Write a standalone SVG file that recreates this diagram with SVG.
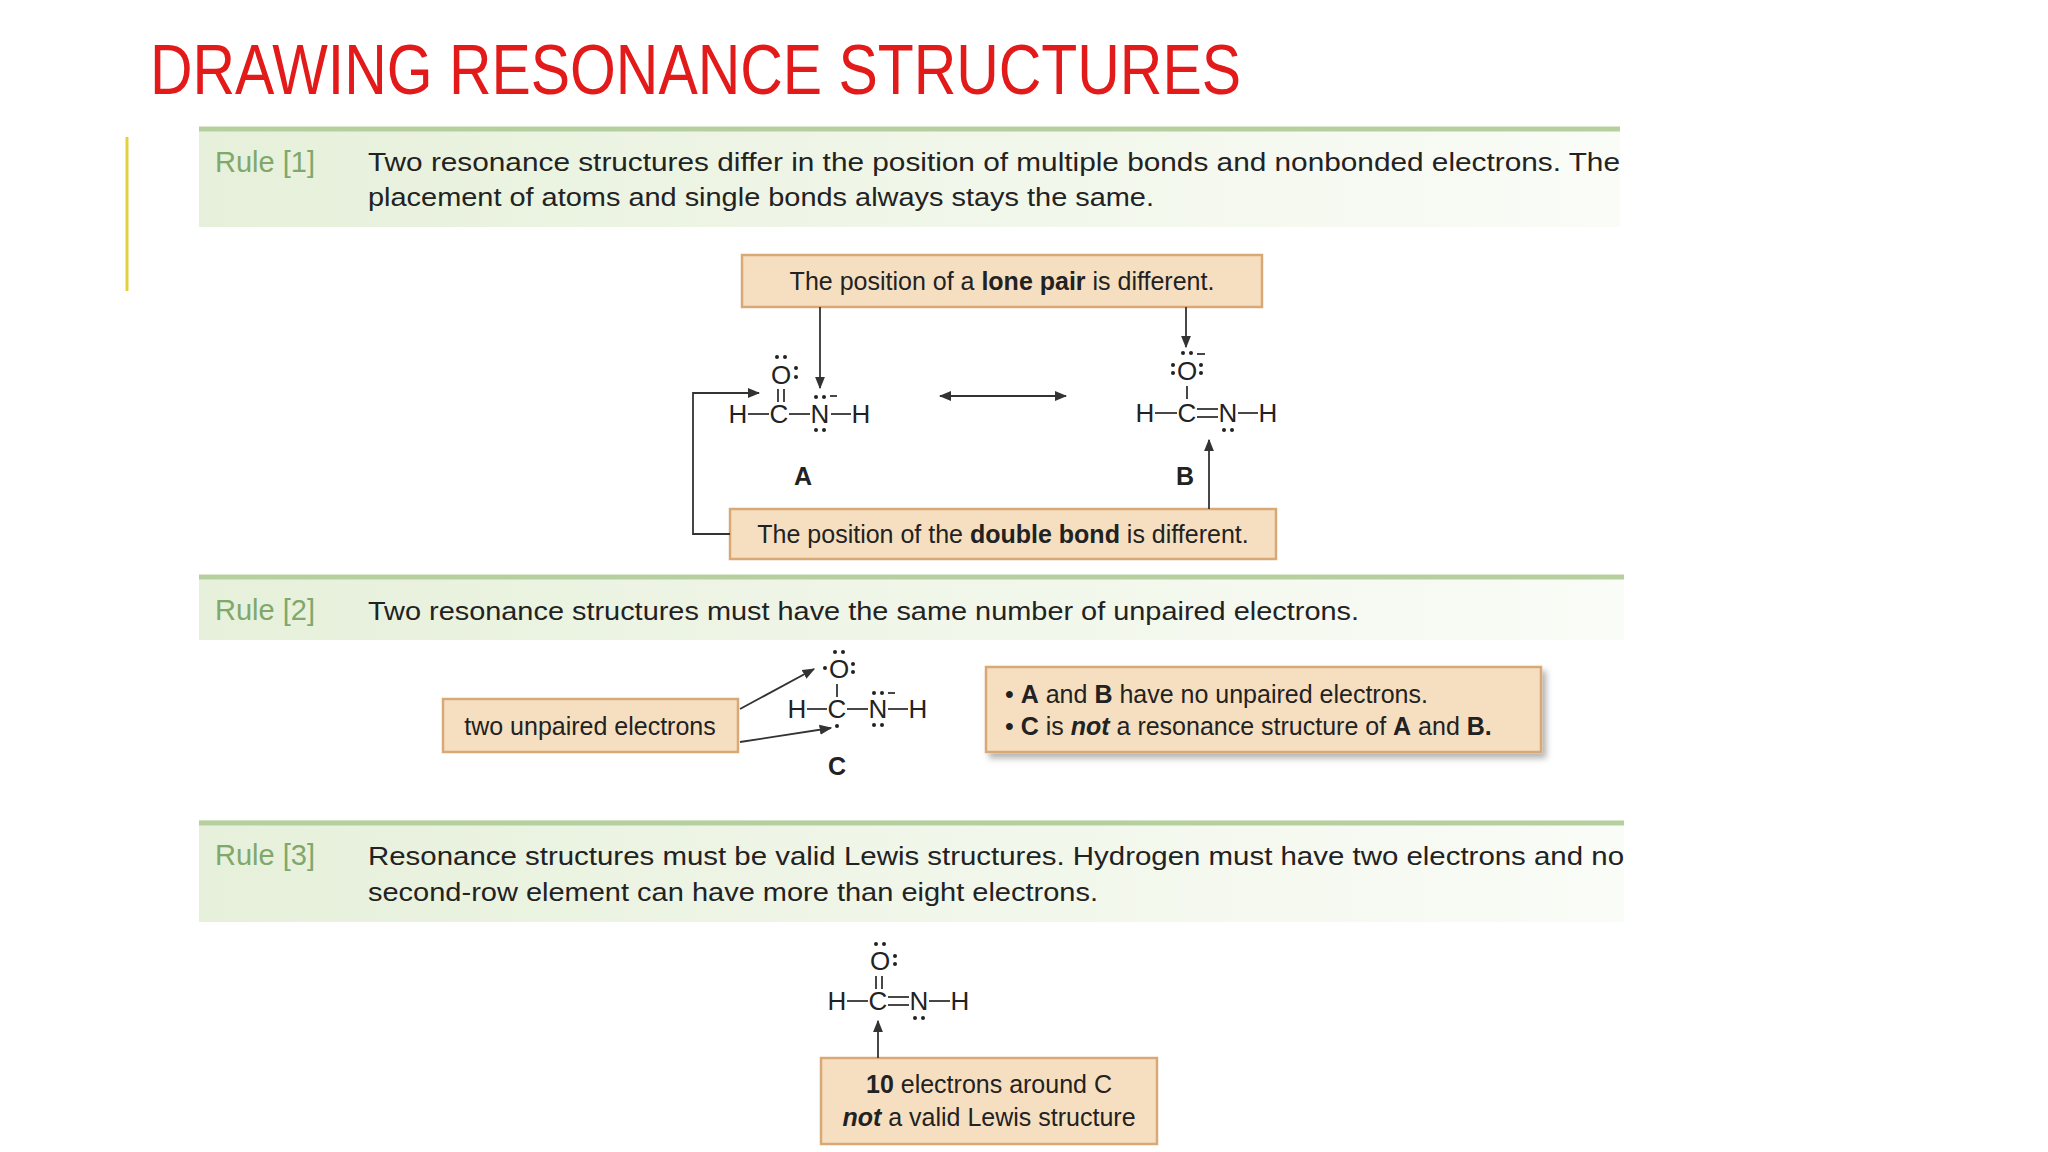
<svg xmlns="http://www.w3.org/2000/svg" width="2048" height="1152" viewBox="0 0 2048 1152">
<defs>
<linearGradient id="band" x1="0" x2="1" y1="0" y2="0"><stop offset="0" stop-color="#e6f0da"/><stop offset="1" stop-color="#fafcf7"/></linearGradient>
<marker id="ah" viewBox="0 0 10 10" refX="9" refY="5" markerWidth="7" markerHeight="7" orient="auto-start-reverse"><path d="M0,1 L10,5 L0,9 z" fill="#333"/></marker>
<filter id="sh" x="-5%" y="-10%" width="115%" height="130%"><feDropShadow dx="4" dy="5" stdDeviation="3" flood-color="#000" flood-opacity="0.3"/></filter>
</defs>
<style>
text{font-family:"Liberation Sans",Arial,sans-serif;fill:#222}
.rule{font-size:29px;fill:#7fa86a}
.body{font-size:26px}
.box{fill:#f6dfc0;stroke:#d9a877;stroke-width:2.5}
.bt{font-size:25px;text-anchor:middle}
.at{font-size:26px;text-anchor:middle}
.bd{stroke:#333;stroke-width:1.8}
.cn{stroke:#333;stroke-width:1.8;fill:none}
.b{font-weight:bold}
circle{fill:#222}
</style>
<rect width="2048" height="1152" fill="#fff"/>
<text x="150" y="94" style="font-size:70px;fill:#e21a1a" textLength="1091" lengthAdjust="spacingAndGlyphs">DRAWING RESONANCE STRUCTURES</text>
<line x1="127" y1="137" x2="127" y2="291" stroke="#e2d23a" stroke-width="3"/>

<g id="rule1">
<rect x="199" y="127" width="1421" height="100" fill="url(#band)"/>
<line x1="199" y1="129" x2="1620" y2="129" stroke="#b5cf9e" stroke-width="5"/>
<text class="rule" x="215" y="172">Rule [1]</text>
<text class="body" x="368" y="171" textLength="1252" lengthAdjust="spacingAndGlyphs">Two resonance structures differ in the position of multiple bonds and nonbonded electrons. The</text>
<text class="body" x="368" y="206" textLength="786" lengthAdjust="spacingAndGlyphs">placement of atoms and single bonds always stays the same.</text>
</g>

<g id="lonepair">
<rect class="box" x="742" y="255" width="520" height="52"/>
<text class="bt" x="1002" y="290">The position of a <tspan class="b">lone pair</tspan> is different.</text>
</g>
<g id="doublebond">
<rect class="box" x="730" y="509" width="546" height="50"/>
<text class="bt" x="1003" y="543">The position of the <tspan class="b">double bond</tspan> is different.</text>
</g>

<g id="molA">
<text class="at" x="781" y="384">O</text>
<circle cx="777" cy="357" r="2"/><circle cx="785" cy="357" r="2"/><circle cx="796" cy="368" r="2"/><circle cx="796" cy="377" r="2"/>
<line class="bd" x1="778" y1="389" x2="778" y2="402"/><line class="bd" x1="784" y1="389" x2="784" y2="402"/>
<text class="at" x="738" y="423">H</text><text class="at" x="779" y="423">C</text><text class="at" x="820" y="423">N</text><text class="at" x="861" y="423">H</text>
<line class="bd" x1="748" y1="414" x2="769" y2="414"/><line class="bd" x1="789" y1="414" x2="810" y2="414"/><line class="bd" x1="831" y1="414" x2="851" y2="414"/>
<circle cx="816" cy="397" r="2"/><circle cx="824" cy="397" r="2"/><circle cx="816" cy="430" r="2"/><circle cx="824" cy="430" r="2"/>
<line class="bd" x1="830" y1="396" x2="837" y2="396"/>
<text x="803" y="485" class="at b" style="font-size:25px">A</text>
</g>

<g id="molB">
<text class="at" x="1187" y="380">O</text>
<circle cx="1183" cy="353" r="2"/><circle cx="1191" cy="353" r="2"/><circle cx="1173" cy="365" r="2"/><circle cx="1173" cy="373" r="2"/><circle cx="1201" cy="365" r="2"/><circle cx="1201" cy="373" r="2"/>
<line class="bd" x1="1197" y1="354" x2="1205" y2="354"/>
<line class="bd" x1="1187" y1="386" x2="1187" y2="399"/>
<text class="at" x="1145" y="422">H</text><text class="at" x="1187" y="422">C</text><text class="at" x="1228" y="422">N</text><text class="at" x="1268" y="422">H</text>
<line class="bd" x1="1155" y1="413" x2="1177" y2="413"/><line class="bd" x1="1197" y1="409" x2="1218" y2="409"/><line class="bd" x1="1197" y1="417" x2="1218" y2="417"/><line class="bd" x1="1238" y1="413" x2="1258" y2="413"/>
<circle cx="1224" cy="430" r="2"/><circle cx="1232" cy="430" r="2"/>
<text x="1185" y="485" class="at b" style="font-size:25px">B</text>
</g>

<g id="rule2">
<rect x="199" y="575" width="1425" height="65" fill="url(#band)"/>
<line x1="199" y1="577" x2="1624" y2="577" stroke="#b5cf9e" stroke-width="5"/>
<text class="rule" x="215" y="620">Rule [2]</text>
<text class="body" x="368" y="620" textLength="991" lengthAdjust="spacingAndGlyphs">Two resonance structures must have the same number of unpaired electrons.</text>
</g>
<g id="twounpaired">
<rect class="box" x="443" y="699" width="295" height="53"/>
<text class="bt" x="590" y="735">two unpaired electrons</text>
</g>
<g id="molC">
<text class="at" x="839" y="678">O</text>
<circle cx="835" cy="652" r="2"/><circle cx="843" cy="652" r="2"/><circle cx="825" cy="668" r="2"/><circle cx="853" cy="664" r="2"/><circle cx="853" cy="672" r="2"/>
<line class="bd" x1="837" y1="684" x2="837" y2="697"/>
<text class="at" x="797" y="718">H</text><text class="at" x="837" y="718">C</text><text class="at" x="878" y="718">N</text><text class="at" x="918" y="718">H</text>
<line class="bd" x1="807" y1="709" x2="827" y2="709"/><line class="bd" x1="847" y1="709" x2="868" y2="709"/><line class="bd" x1="888" y1="709" x2="908" y2="709"/>
<circle cx="837" cy="726" r="2"/>
<circle cx="874" cy="693" r="2"/><circle cx="882" cy="693" r="2"/><circle cx="874" cy="725" r="2"/><circle cx="882" cy="725" r="2"/>
<line class="bd" x1="888" y1="693" x2="895" y2="693"/>
<text x="837" y="775" class="at b" style="font-size:25px">C</text>
</g>
<g id="bullets">
<rect class="box" x="986" y="667" width="555" height="85" filter="url(#sh)"/>
<text x="1005" y="703" style="font-size:25px">•  <tspan class="b">A</tspan> and <tspan class="b">B</tspan> have no unpaired electrons.</text>
<text x="1005" y="735" style="font-size:25px">•  <tspan class="b">C</tspan> is <tspan class="b" font-style="italic">not</tspan> a resonance structure of <tspan class="b">A</tspan> and <tspan class="b">B.</tspan></text>
</g>

<g id="rule3">
<rect x="199" y="820" width="1425" height="102" fill="url(#band)"/>
<line x1="199" y1="823" x2="1624" y2="823" stroke="#b5cf9e" stroke-width="5"/>
<text class="rule" x="215" y="865">Rule [3]</text>
<text class="body" x="368" y="865" textLength="1256" lengthAdjust="spacingAndGlyphs">Resonance structures must be valid Lewis structures. Hydrogen must have two electrons and no</text>
<text class="body" x="368" y="901" textLength="730" lengthAdjust="spacingAndGlyphs">second-row element can have more than eight electrons.</text>
</g>
<g id="molD">
<text class="at" x="880" y="970">O</text>
<circle cx="876" cy="944" r="2"/><circle cx="884" cy="944" r="2"/><circle cx="895" cy="956" r="2"/><circle cx="895" cy="964" r="2"/>
<line class="bd" x1="876" y1="976" x2="876" y2="989"/><line class="bd" x1="882" y1="976" x2="882" y2="989"/>
<text class="at" x="837" y="1010">H</text><text class="at" x="878" y="1010">C</text><text class="at" x="919" y="1010">N</text><text class="at" x="960" y="1010">H</text>
<line class="bd" x1="847" y1="1001" x2="868" y2="1001"/><line class="bd" x1="888" y1="997" x2="909" y2="997"/><line class="bd" x1="888" y1="1005" x2="909" y2="1005"/><line class="bd" x1="929" y1="1001" x2="950" y2="1001"/>
<circle cx="915" cy="1018" r="2"/><circle cx="923" cy="1018" r="2"/>
</g>
<g id="tenelectrons">
<rect class="box" x="821" y="1058" width="336" height="86"/>
<text class="bt" x="989" y="1093"><tspan class="b">10</tspan> electrons around C</text>
<text class="bt" x="989" y="1126"><tspan class="b" font-style="italic">not</tspan> a valid Lewis structure</text>
</g>

<g id="connectors">
<line class="cn" x1="820" y1="307" x2="820" y2="388" marker-end="url(#ah)"/>
<line class="cn" x1="1186" y1="307" x2="1186" y2="347" marker-end="url(#ah)"/>
<polyline class="cn" points="730,534 693,534 693,393 759,393" marker-end="url(#ah)"/>
<line class="cn" x1="1209" y1="509" x2="1209" y2="440" marker-end="url(#ah)"/>
<line class="cn" x1="940" y1="396" x2="1066" y2="396" marker-start="url(#ah)" marker-end="url(#ah)"/>
<line class="cn" x1="740" y1="709" x2="814" y2="669" marker-end="url(#ah)"/>
<line class="cn" x1="740" y1="742" x2="831" y2="728" marker-end="url(#ah)"/>
<line class="cn" x1="878" y1="1058" x2="878" y2="1021" marker-end="url(#ah)"/>
</g>
</svg>
